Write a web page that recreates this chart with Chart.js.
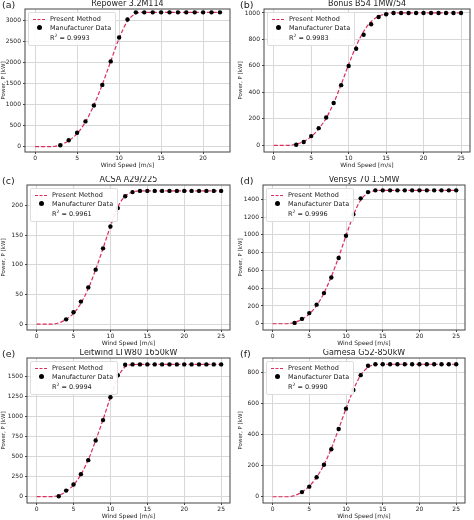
<!DOCTYPE html>
<html><head><meta charset="utf-8">
<script src="https://cdn.jsdelivr.net/npm/chart.js"></script>
<style>
body{margin:0;background:#fff;width:474px;height:520px;position:relative;overflow:hidden;font-family:"DejaVu Sans",sans-serif}
.p{position:absolute}
.lg{position:absolute;background:rgba(255,255,255,0.9);border:1px solid #ddd;border-radius:2px;font-size:6.5px;color:#222;padding:2px 4px;line-height:8.5px}
.lg div{white-space:nowrap}
.dash{display:inline-block;width:12px;height:0;border-top:1.3px dashed #dc2e5c;border-top-color:#dc2e5c;vertical-align:middle;margin-right:5px}
.dot{display:inline-block;width:5px;height:5px;border-radius:50%;background:#000;margin:0 8px 0 4px;vertical-align:middle}
</style></head><body>
<script>
// Data
const titles = ["Repower 3.2M114","Bonus B54 1MW/54","ACSA A29/225","Vensys 70 1.5MW","Leitwind LTW80 1650kW","Gamesa G52-850kW"];
const tags = ["(a)","(b)","(c)","(d)","(e)","(f)"];
const r2 = ["0.9993","0.9983","0.9961","0.9996","0.9994","0.9990"];
const curveX_a = [0,1,2,3,4,5,6,7,8,9,10,11,12,13,14,15,16,17,18,19,20,21,22];
const curveX = [0,1,2,3,4,5,6,7,8,9,10,11,12,13,14,15,16,17,18,19,20,21,22,23,24,25];
const dataX_a = [3,4,5,6,7,8,9,10,11,12,13,14,15,16,17,18,19,20,21,22];
const dataX_b = [3,4,5,6,7,8,9,10,11,12,13,14,15,16,17,18,19,20,21,22,23,24,25];
const dataX_c = [4,5,6,7,8,9,10,11,12,13,14,15,16,17,18,19,20,21,22,23,24,25];
const dataY_a = [30,150,330,600,980,1470,2030,2600,3030,3200,3200,3200,3200,3200,3200,3200,3200,3200,3200,3200];
const curveY_a = [0,0,0,40,140,310,590,990,1480,2030,2580,2990,3170,3200,3200,3200,3200,3200,3200,3200,3200,3200,3200];
const dataY_b = [5,25,70,130,210,320,455,600,730,835,915,970,990,1000,1000,1000,1000,1000,1000,1000,1000,1000,1000];
const curveY_b = [0,0,0,10,30,65,125,205,320,460,610,750,860,935,975,993,1000,1000,1000,1000,1000,1000,1000,1000,1000,1000];
const dataY_c = [8,20,38,62,92,128,165,196,216,223,225,225,225,225,225,225,225,225,225,225,225,225];
const curveY_c = [0,0,0,2,8,18,35,60,92,128,165,198,216,223,225,225,225,225,225,225,225,225,225,225,225,225];
const dataY_d = [10,55,120,215,345,520,740,990,1230,1410,1480,1500,1500,1500,1500,1500,1500,1500,1500,1500,1500,1500,1500];
const curveY_d = [0,0,0,15,50,110,205,345,530,750,990,1220,1390,1470,1495,1500,1500,1500,1500,1500,1500,1500,1500,1500,1500,1500];
const dataY_e = [5,75,150,280,455,700,955,1240,1515,1645,1650,1650,1650,1650,1650,1650,1650,1650,1650,1650,1650,1650,1650];
const curveY_e = [0,0,0,15,65,145,275,460,700,960,1240,1490,1620,1648,1650,1650,1650,1650,1650,1650,1650,1650,1650,1650,1650,1650];
const dataY_f = [30,65,125,205,305,435,565,685,780,840,850,850,850,850,850,850,850,850,850,850,850,850];
const curveY_f = [0,0,0,8,30,68,125,205,310,435,565,685,780,830,848,850,850,850,850,850,850,850,850,850,850,850];
const yTickStep = [500,200,50,200,250,200];
const yMin = [-130,-50,-10,-70,-80,-40];
const yMax = [3280,1030,235,1560,1730,890];
const xMax = [23.2,26.2,26.2,26.2,26.2,26.2];
const xMin = [-1.2,-1.3,-1.3,-1.3,-1.3,-1.3];

const panels = [
 {cx:curveX_a,cy:curveY_a,dx:dataX_a,dy:dataY_a, box:[25,9,230,152]},
 {cx:curveX,cy:curveY_b,dx:dataX_b,dy:dataY_b, box:[264,9,470,152]},
 {cx:curveX,cy:curveY_c,dx:dataX_c,dy:dataY_c, box:[27,185,230,330]},
 {cx:curveX,cy:curveY_d,dx:dataX_b,dy:dataY_d, box:[263,185,465,330]},
 {cx:curveX,cy:curveY_e,dx:dataX_b,dy:dataY_e, box:[27,358,230,503]},
 {cx:curveX,cy:curveY_f,dx:dataX_c,dy:dataY_f, box:[263,358,465,503]},
];
const font = {family:'"DejaVu Sans",sans-serif', size:6};
panels.forEach((p,i)=>{
  const [l,t,r,b]=p.box;
  const cl = i%2===0?0:237, ct = t-9, cw = 237, ch = Math.min(b-ct+17, 520-ct);
  const div=document.createElement('div');div.className='p';
  div.style.cssText=`left:${cl}px;top:${ct}px;width:${cw}px;height:${ch}px`;
  const cv=document.createElement('canvas');div.appendChild(cv);document.body.appendChild(div);
  const leftW=l-cl, bottomH=ct+ch-b, rightPad=cl+cw-r;
  const lg=document.createElement('div');lg.className='lg';
  lg.style.left=(l+3)+'px';lg.style.top=(t+3)+'px';
  lg.innerHTML=`<div><span class="dash"></span>Present Method</div><div><span class="dot"></span>Manufacturer Data</div><div style="padding-left:17px">R<sup style="font-size:4.5px">2</sup> = ${r2[i]}</div>`;
  const titlePlugin={id:'t'+i,afterDraw(c){const ctx=c.ctx;ctx.save();ctx.fillStyle='#222';
    ctx.font='8px "DejaVu Sans",sans-serif';ctx.textAlign='center';ctx.textBaseline='bottom';
    ctx.fillText(titles[i],(c.chartArea.left+c.chartArea.right)/2,c.chartArea.top-1);
    ctx.font='9.5px "DejaVu Sans",sans-serif';ctx.textAlign='left';
    ctx.fillText(tags[i],i%2===0?2:3,c.chartArea.top+1);
    ctx.strokeStyle='#444';ctx.lineWidth=1;const a=c.chartArea;ctx.strokeRect(a.left,a.top,a.right-a.left,a.bottom-a.top);ctx.restore();}};
  new Chart(cv,{
    data:{datasets:[
      {type:'line',data:p.cx.map((x,k)=>({x,y:p.cy[k]})),borderColor:'#dc2e5c',borderWidth:1.2,borderDash:[4,2],pointRadius:0,tension:0.4,cubicInterpolationMode:'monotone',order:2},
      {type:'scatter',data:p.dx.map((x,k)=>({x,y:p.dy[k]})),backgroundColor:'#000',borderColor:'#000',borderWidth:0,pointRadius:2.2,order:1}
    ]},
    options:{responsive:true,maintainAspectRatio:false,animation:false,
      layout:{padding:{top:9,right:rightPad,left:0,bottom:0}},
      plugins:{legend:{display:false},tooltip:{enabled:false}},
      scales:{
        x:{type:'linear',min:xMin[i],max:xMax[i],afterBuildTicks(s){s.ticks=[0,5,10,15,20,25].filter(v=>v<=s.max).map(v=>({value:v}));},
          afterFit(s){s.height=bottomH;},
          grid:{color:'#d8d8d8',drawTicks:true,tickLength:2,tickColor:'#444'},border:{display:false},
          ticks:{font,color:'#222',padding:1,maxRotation:0,callback:v=>String(v)},
          title:{display:true,text:'Wind Speed [m/s]',font,color:'#222',padding:{top:0,bottom:0}}},
        y:{min:yMin[i],max:yMax[i],afterBuildTicks(s){const st=yTickStep[i];const tk=[];for(let v=0;v<=s.max;v+=st)tk.push({value:v});s.ticks=tk;},
          afterFit(s){s.width=leftW;},
          grid:{color:'#d8d8d8',tickLength:2,tickColor:'#444'},border:{display:false},
          ticks:{font,color:'#222',padding:2,callback:v=>String(v)},
          title:{display:true,text:'Power, P [kW]',font:{...font,size:5.5},color:'#222',padding:{top:0,bottom:1}}}
      }},
    plugins:[titlePlugin]
  });
  document.body.appendChild(lg);
});
</script>
</body></html>
